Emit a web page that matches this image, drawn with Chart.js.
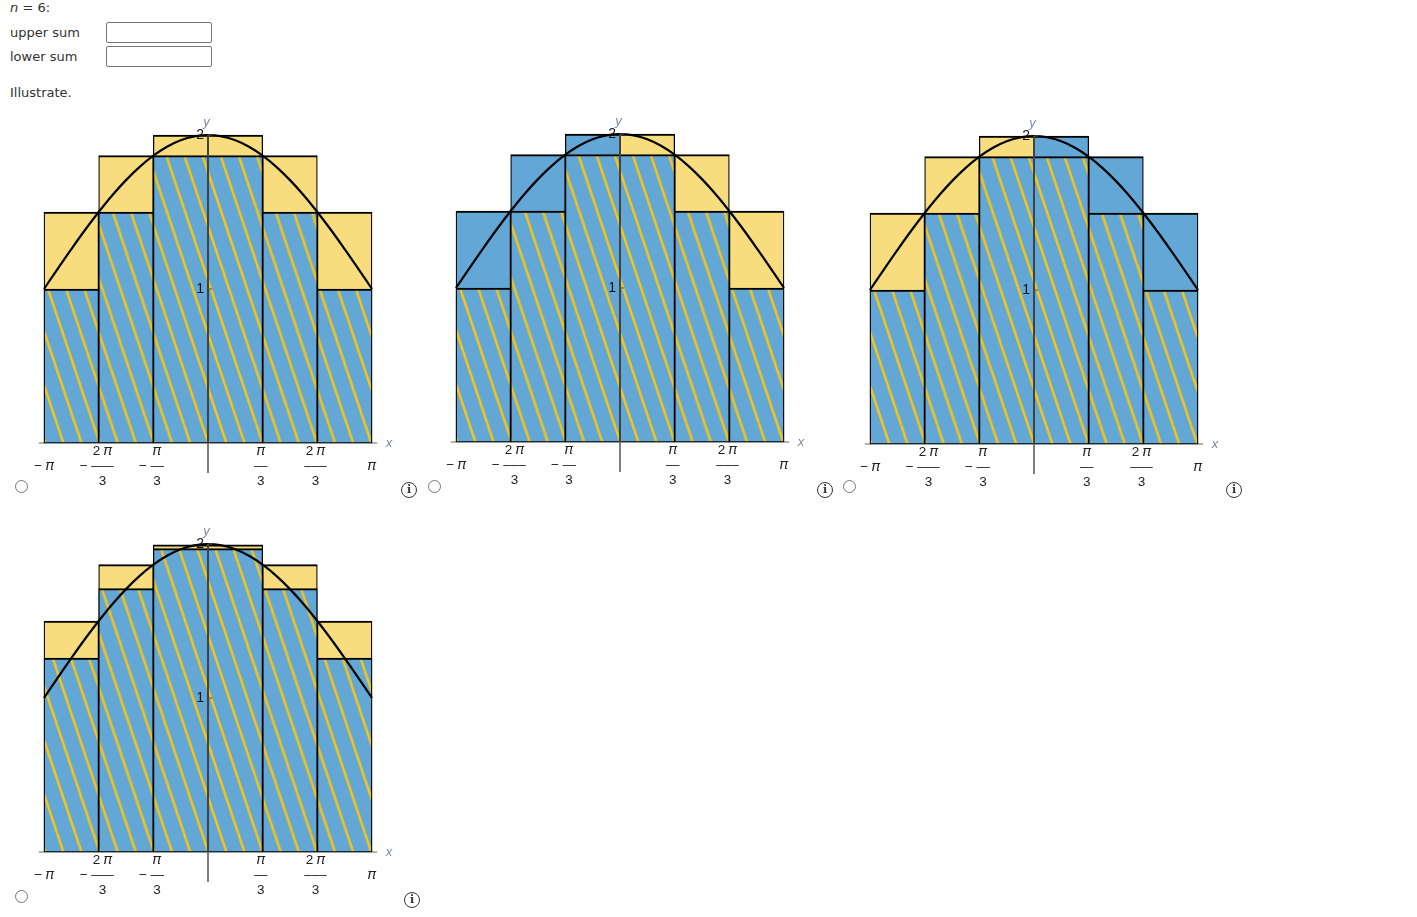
<!DOCTYPE html>
<html>
<head>
<meta charset="utf-8">
<title>Illustrate</title>
<script src="https://cdn.jsdelivr.net/npm/chart.js@4"></script>
<style>
  html, body { margin: 0; padding: 0; background: #fff; }
  body { width: 1417px; height: 917px; position: relative; overflow: hidden;
         font: 13px "DejaVu Sans", Verdana, sans-serif; color: #333; }
  .txt { position: absolute; left: 10px; line-height: 16px; white-space: nowrap; }
  .box { position: absolute; left: 106px; width: 106px; height: 21px; box-sizing: border-box; margin: 0;
         border: 1px solid #767676; border-radius: 2px; background: #fff; }
  canvas { position: absolute; }
  .radio { position: absolute; margin: 0; width: 13px; height: 13px; }
  .info { position: absolute; width: 16px; height: 16px; box-sizing: border-box; border: 1px solid #333;
          border-radius: 50%; font: bold 11px/14px "DejaVu Serif", serif; text-align: center; color: #333; }
</style>
</head>
<body>
<div class="txt" style="top:0px"><i>n</i> = 6:</div>
<div class="txt" style="top:25px">upper sum</div>
<input class="box" style="top:22px">
<div class="txt" style="top:49px">lower sum</div>
<input class="box" style="top:46px">
<div class="txt" style="top:85px">Illustrate.</div>

<canvas id="c1" width="400" height="400" style="left:0px;top:100px"></canvas>
<canvas id="c2" width="400" height="400" style="left:412px;top:99px"></canvas>
<canvas id="c3" width="400" height="400" style="left:826px;top:101px"></canvas>
<canvas id="c4" width="400" height="400" style="left:0px;top:509px"></canvas>

<input class="radio" type="radio" style="left:15px;top:480px">
<input class="radio" type="radio" style="left:428px;top:480px">
<input class="radio" type="radio" style="left:843px;top:480px">
<input class="radio" type="radio" style="left:15px;top:890px">
<div class="info" style="left:401px;top:482px">i</div>
<div class="info" style="left:817px;top:482px">i</div>
<div class="info" style="left:1226px;top:482px">i</div>
<div class="info" style="left:404px;top:892px">i</div>

<script>
// dati
const categories = ['1', '2', '3', '4', '5', '6'];
const upperEndpoints = [1.5, 1.866, 2, 2, 1.866, 1.5];
const lowerEndpoints = [1, 1.5, 1.866, 1.866, 1.5, 1];
const upperMidpoints = [1.5, 1.866, 1.995, 1.995, 1.866, 1.5];
const lowerMidpoints = [1.26, 1.71, 1.97, 1.97, 1.71, 1.26];

const curveX = [-3.1416, -2.8798, -2.618, -2.3562, -2.0944, -1.8326, -1.5708, -1.309, -1.0472, -0.7854, -0.5236, -0.2618, 0,
  0.2618, 0.5236, 0.7854, 1.0472, 1.309, 1.5708, 1.8326, 2.0944, 2.3562, 2.618, 2.8798, 3.1416];
const curveY = [1, 1.131, 1.259, 1.383, 1.5, 1.609, 1.707, 1.793, 1.866, 1.924, 1.966, 1.991, 2,
  1.991, 1.966, 1.924, 1.866, 1.793, 1.707, 1.609, 1.5, 1.383, 1.259, 1.131, 1];

const xTickValues = [-3.1416, -2.0944, -1.0472, 1.0472, 2.0944, 3.1416];
const xTickLabels = [
  ['', '\u2212 \ud835\udf0b', ''],
  ['  2 \ud835\udf0b', '\u2212 \u2013\u2013\u2013 ', '  3'],
  ['  \ud835\udf0b', '\u2212 \u2014 ', '  3'],
  ['\ud835\udf0b ', '\u2014 ', '3 '],
  ['2 \ud835\udf0b ', '\u2013\u2013\u2013 ', '3 '],
  ['', '\ud835\udf0b', '']
];
const yTickValues = [1, 2];
const xAxisEnds = [-3.24, 3.24];
const yAxisEnds = [-0.195, 2];

const YELLOW = '#f7dd7d';
const BLUE = '#62a7d5';
const FONT = '"Liberation Sans", "DejaVu Sans", sans-serif';

// tratteggio giallo obliquo sui rettangoli inferiori
function makeHatch(ctx) {
  const tile = document.createElement('canvas');
  tile.width = 18;
  tile.height = 54;
  const t = tile.getContext('2d');
  t.fillStyle = BLUE;
  t.fillRect(0, 0, 18, 54);
  t.strokeStyle = '#f2c41f';
  t.lineWidth = 2.6;
  [-18, 0, 18].forEach(dx => {
    t.beginPath();
    t.moveTo(dx, 0);
    t.lineTo(dx + 18, 54);
    t.stroke();
  });
  const p = ctx.createPattern(tile, 'repeat');
  p.setTransform(new DOMMatrix([1.006, 0, 0, 1, 2.7, 0]));
  return p;
}

// nomi degli assi x e y
const axisNames = {
  id: 'axisNames',
  afterDraw(chart) {
    const { xLin, y } = chart.scales;
    const c = chart.ctx;
    c.save();
    c.font = 'italic 13px ' + FONT;
    c.fillStyle = '#7b8a99';
    c.textAlign = 'center';
    c.textBaseline = 'middle';
    c.fillText('x', xLin.getPixelForValue(3.1416) + 17, y.getPixelForValue(0));
    c.fillText('y', xLin.getPixelForValue(0) - 1.5, y.getPixelForValue(2) - 13);
    c.restore();
  }
};

function drawPanel(id, upper, lower, fills) {
  const canvas = document.getElementById(id);
  const ctx = canvas.getContext('2d');
  const black = { top: 2, left: 1.25, right: 1.25, bottom: 1 };
  return new Chart(ctx, {
    data: {
      labels: categories,
      datasets: [
        { type: 'line', xAxisID: 'xLin', order: 0, clip: false, borderColor: '#555', borderWidth: 1.5, pointRadius: 0,
          data: [{ x: 0, y: yAxisEnds[0] }, { x: 0, y: yAxisEnds[1] }] },
        { type: 'line', xAxisID: 'xLin', order: 0, clip: false, borderColor: '#555', borderWidth: 1, pointRadius: 0,
          data: [{ x: 0, y: yTickValues[0] }, { x: 0.08, y: yTickValues[0] }, { x: null, y: null }, { x: 0, y: yTickValues[1] }, { x: 0.08, y: yTickValues[1] }] },
        { type: 'line', xAxisID: 'xLin', order: 1, clip: false, borderColor: '#000', borderWidth: 2.2, pointRadius: 0, tension: 0.4,
          data: curveX.map((x, i) => ({ x, y: curveY[i] })) },
        { type: 'bar', xAxisID: 'x', order: 2, clip: false, grouped: false, data: lower, backgroundColor: makeHatch(ctx),
          borderColor: '#000', borderWidth: black, borderSkipped: false, barPercentage: 1, categoryPercentage: 1 },
        { type: 'bar', xAxisID: 'x', order: 3, clip: false, grouped: false, data: upper, backgroundColor: fills,
          borderColor: '#000', borderWidth: black, borderSkipped: false, barPercentage: 1, categoryPercentage: 1 },
        { type: 'line', xAxisID: 'xLin', order: 4, clip: false, borderColor: '#666', borderWidth: 1, pointRadius: 0,
          data: [{ x: xAxisEnds[0], y: 0 }, { x: xAxisEnds[1], y: 0 }] }
      ]
    },
    options: {
      responsive: false,
      animation: false,
      events: [],
      layout: { padding: { left: 44, right: 28, top: 35, bottom: 7 } },
      plugins: { legend: { display: false }, tooltip: { enabled: false } },
      scales: {
        x: { display: false, offset: true },
        xLin: {
          type: 'linear', position: 'bottom', min: -3.1416, max: 3.1416,
          grid: { display: false, drawTicks: false },
          border: { display: false },
          afterBuildTicks: s => { s.ticks = xTickValues.map(v => ({ value: v })); },
          afterFit: s => { s.height = 50; s.paddingLeft = 0; s.paddingRight = 0; },
          ticks: {
            autoSkip: false, maxRotation: 0, minRotation: 0, padding: 1, color: '#222',
            font: { family: FONT, size: 13.5, lineHeight: 1.11 },
            callback: (v, i) => xTickLabels[i]
          }
        },
        y: {
          position: { xLin: 0 }, min: 0, max: 2,
          grid: { display: false, drawTicks: false },
          border: { display: false },
          afterBuildTicks: s => { s.ticks = yTickValues.map(v => ({ value: v })); },
          ticks: { z: 1, color: '#111', padding: 5, font: { family: FONT, size: 14 }, callback: v => v + ' ' }
        }
      }
    },
    plugins: [axisNames]
  });
}

const allYellow = categories.map(() => YELLOW);
drawPanel('c1', upperEndpoints, lowerEndpoints, allYellow);
drawPanel('c2', upperEndpoints, lowerEndpoints, [BLUE, BLUE, BLUE, YELLOW, YELLOW, YELLOW]);
drawPanel('c3', upperEndpoints, lowerEndpoints, [YELLOW, YELLOW, YELLOW, BLUE, BLUE, BLUE]);
drawPanel('c4', upperMidpoints, lowerMidpoints, allYellow);
</script>
</body>
</html>
